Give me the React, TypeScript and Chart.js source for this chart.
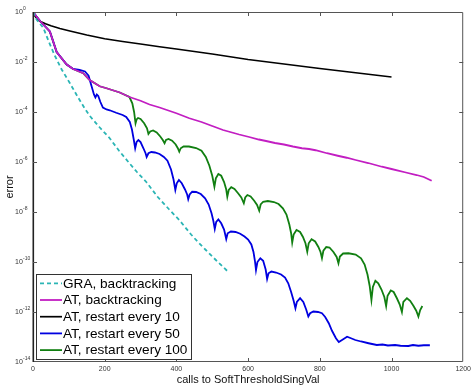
import React, { useEffect, useRef } from 'react';
import { Chart, registerables } from 'chart.js';

Chart.register(...registerables);

// ---- axis ticks ----
const xTickValues = [0, 200, 400, 600, 800, 1000, 1200];
const yTickExponents = [0, -2, -4, -6, -8, -10, -12, -14];

// ---- series (x = calls, values given as log10(error)) ----
const seriesLabels = [
  'GRA, backtracking',
  'AT, backtracking',
  'AT, restart every 10',
  'AT, restart every 50',
  'AT, restart every 100',
];

const graX = [0, 10, 29, 45, 61, 80, 103, 125, 144, 158, 185, 214, 240, 269, 290, 316, 348, 380, 408, 441, 460, 482, 510, 542];
const graLogErr = [0, -0.3, -0.64, -1.22, -1.75, -2.3, -2.85, -3.4, -3.85, -4.15, -4.6, -5.05, -5.55, -6.05, -6.4, -6.8, -7.4, -7.9, -8.32, -8.9, -9.2, -9.52, -9.92, -10.36];

const atBtX = [0, 19, 47, 66, 94, 112, 140, 158, 186, 205, 242, 269, 300, 325, 353, 400, 436, 470, 500, 530, 550, 575, 603, 630, 650, 675, 700, 725, 750, 770, 788, 820, 850, 875, 900, 935, 973, 1000, 1040, 1070, 1090, 1112];
const atBtLogErr = [0, -0.35, -0.78, -1.6, -2.1, -2.28, -2.45, -2.72, -2.97, -3.05, -3.22, -3.4, -3.55, -3.7, -3.82, -4.05, -4.25, -4.4, -4.56, -4.72, -4.8, -4.9, -5.0, -5.1, -5.16, -5.24, -5.3, -5.38, -5.45, -5.48, -5.53, -5.65, -5.75, -5.83, -5.92, -6.04, -6.19, -6.28, -6.42, -6.52, -6.6, -6.75];

const r10X = [0, 5, 12, 19, 35, 50, 75, 100, 150, 200, 250, 300, 353, 400, 500, 600, 700, 800, 900, 1000];
const r10LogErr = [0, -0.15, -0.28, -0.37, -0.47, -0.55, -0.66, -0.75, -0.92, -1.07, -1.18, -1.28, -1.39, -1.48, -1.68, -1.9, -2.08, -2.26, -2.43, -2.6];

const r50X = [0, 19, 47, 66, 94, 112, 130, 145, 155, 163, 170, 174, 178, 182, 188, 195, 205, 214, 232, 250, 260, 270, 276, 281, 285, 289, 294, 300, 308, 314, 317, 322, 330, 340, 353, 365, 375, 385, 392, 397, 401, 407, 415, 424, 430, 433, 437, 444, 455, 468, 480, 490, 498, 503, 507, 511, 517, 525, 533, 539, 543, 552, 565, 578, 590, 600, 609, 615, 619, 622, 626, 634, 642, 649, 653, 657, 665, 678, 692, 703, 712, 720, 727, 732, 736, 745, 754, 762, 768, 773, 782, 795, 806, 815, 825, 834, 845, 853, 862, 876, 887, 899, 915, 936, 959, 975, 990, 1010, 1025, 1047, 1060, 1075, 1090, 1107];
const r50LogErr = [0, -0.35, -0.78, -1.6, -2.1, -2.28, -2.32, -2.38, -2.55, -2.95, -3.3, -3.42, -3.3, -3.36, -3.6, -3.82, -3.9, -3.93, -4.03, -4.12, -4.2, -4.4, -4.7, -5.1, -5.45, -5.2, -5.12, -5.2, -5.45, -5.65, -5.8, -5.65, -5.6, -5.62, -5.68, -5.8, -5.95, -6.3, -6.7, -7.12, -6.85, -6.72, -6.85, -7.1, -7.3, -7.49, -7.3, -7.19, -7.2, -7.28, -7.45, -7.7, -8.05, -8.35, -8.68, -8.4, -8.3, -8.45, -8.7, -9.08, -8.85, -8.78, -8.8, -8.87, -8.98, -9.1, -9.3, -9.6, -9.95, -10.32, -10.0, -9.85, -9.95, -10.3, -10.68, -10.45, -10.38, -10.42, -10.5, -10.62, -10.85, -11.2, -11.55, -11.85, -11.6, -11.45, -11.6, -11.9, -12.18, -12.05, -11.98, -12.0, -12.05, -12.2, -12.45, -12.75, -13.05, -13.2, -13.12, -12.99, -13.05, -13.12, -13.18, -13.25, -13.32, -13.3, -13.34, -13.32, -13.35, -13.36, -13.32, -13.35, -13.33, -13.33];

const r100X = [0, 19, 47, 66, 94, 112, 140, 158, 186, 205, 242, 269, 277, 282, 286, 289, 293, 300, 310, 318, 322, 327, 335, 345, 355, 362, 367, 371, 378, 388, 398, 404, 408, 412, 420, 435, 455, 470, 482, 492, 500, 506, 510, 517, 525, 533, 539, 542, 546, 553, 562, 572, 581, 588, 592, 598, 607, 617, 625, 631, 635, 642, 655, 672, 685, 697, 707, 715, 720, 723, 727, 735, 745, 753, 760, 765, 769, 777, 787, 796, 802, 806, 810, 818, 827, 838, 847, 852, 856, 865, 880, 900, 915, 925, 933, 939, 944, 948, 955, 963, 972, 980, 985, 989, 998, 1006, 1015, 1023, 1029, 1033, 1043, 1052, 1061, 1069, 1075, 1080, 1086];
const r100LogErr = [0, -0.35, -0.78, -1.6, -2.1, -2.28, -2.45, -2.72, -2.97, -3.05, -3.22, -3.4, -3.65, -4.0, -4.45, -4.3, -4.24, -4.28, -4.45, -4.65, -4.88, -4.78, -4.74, -4.82, -4.98, -5.12, -5.25, -5.12, -5.08, -5.15, -5.3, -5.45, -5.59, -5.45, -5.38, -5.38, -5.44, -5.55, -5.8, -6.15, -6.55, -6.99, -6.65, -6.48, -6.55, -6.8, -7.1, -7.39, -7.12, -7.01, -7.08, -7.25, -7.42, -7.65, -7.42, -7.32, -7.38, -7.55, -7.72, -7.95, -7.7, -7.59, -7.56, -7.6, -7.68, -7.85, -8.1, -8.5, -8.85, -9.22, -8.9, -8.72, -8.8, -9.0, -9.25, -9.59, -9.25, -9.09, -9.18, -9.4, -9.6, -9.85, -9.55, -9.4, -9.42, -9.6, -9.8, -10.05, -9.78, -9.66, -9.65, -9.7, -9.85, -10.1, -10.5, -10.95, -11.52, -11.0, -10.75, -10.85, -11.1, -11.4, -11.76, -11.35, -11.14, -11.2, -11.45, -11.7, -12.0, -11.6, -11.45, -11.55, -11.75, -11.95, -12.18, -11.92, -11.76];

const seriesColors = ['#2bb5b5', '#c21ec2', '#000000', '#0000e0', '#117f11'];

function toPoints(xs: number[], logs: number[]) {
  return xs.map((x, i) => ({ x, y: Math.pow(10, logs[i]) }));
}

const FONT = "'Liberation Sans', Arial, Helvetica, sans-serif";

const matlabAxesPlugin = {
  id: 'matlabAxes',
  afterDatasetsDraw(chart: any) {
    const { ctx, chartArea, scales } = chart;
    const { left, right, top, bottom } = chartArea;
    const xs = scales.x;
    const ys = scales.y;
    ctx.save();
    ctx.setLineDash([]);
    // box
    ctx.strokeStyle = '#555555';
    ctx.lineWidth = 1;
    ctx.beginPath();
    ctx.moveTo(left, top + 0.5);
    ctx.lineTo(right - 0.5, top + 0.5);
    ctx.lineTo(right - 0.5, bottom - 0.5);
    ctx.lineTo(left, bottom - 0.5);
    ctx.stroke();
    ctx.strokeStyle = '#222222';
    ctx.lineWidth = 1.6;
    ctx.beginPath();
    ctx.moveTo(left + 0.3, top);
    ctx.lineTo(left + 0.3, bottom);
    ctx.stroke();
    // inward ticks
    const tl = 4;
    ctx.strokeStyle = '#555555';
    ctx.lineWidth = 1;
    ctx.beginPath();
    xs.ticks.forEach((t: any) => {
      const px = Math.round(xs.getPixelForValue(t.value)) + 0.5;
      if (px <= left + 1 || px >= right - 1) return;
      ctx.moveTo(px, bottom);
      ctx.lineTo(px, bottom - tl);
      ctx.moveTo(px, top);
      ctx.lineTo(px, top + tl);
    });
    ys.ticks.forEach((t: any) => {
      const py = Math.round(ys.getPixelForValue(t.value)) + 0.5;
      if (py <= top + 1 || py >= bottom - 1) return;
      ctx.moveTo(left, py);
      ctx.lineTo(left + tl, py);
      ctx.moveTo(right, py);
      ctx.lineTo(right - tl, py);
    });
    ctx.stroke();
    // y tick labels 10^n (exponent drawn raised and smaller)
    ctx.fillStyle = '#333333';
    ctx.textBaseline = 'middle';
    ctx.textAlign = 'left';
    ys.ticks.forEach((t: any) => {
      const py = ys.getPixelForValue(t.value);
      const e = Math.round(Math.log10(t.value));
      const x0 = 15;
      ctx.font = `7px ${FONT}`;
      ctx.fillText('10', x0, py + 0.5);
      const w = ctx.measureText('10').width;
      ctx.font = `5px ${FONT}`;
      ctx.fillText(String(e), x0 + w + 0.3, py - 3);
    });
    ctx.restore();
  },
  afterDraw(chart: any) {
    const { ctx, chartArea } = chart;
    const bx = chartArea.left + 3;
    const bw = 156;
    const bh = 86;
    const by = chartArea.bottom - 2 - bh;
    ctx.save();
    ctx.fillStyle = '#ffffff';
    ctx.fillRect(bx, by, bw, bh);
    ctx.strokeStyle = '#333333';
    ctx.lineWidth = 1;
    ctx.setLineDash([]);
    ctx.strokeRect(bx + 0.5, by + 0.5, bw - 1, bh - 1);
    const rowH = 16.7;
    chart.data.datasets.forEach((ds: any, i: number) => {
      const cy = by + 9.3 + i * rowH;
      ctx.strokeStyle = ds.borderColor;
      ctx.lineWidth = ds.borderWidth;
      ctx.setLineDash(ds.borderDash || []);
      ctx.beginPath();
      ctx.moveTo(bx + 4, cy);
      ctx.lineTo(bx + 26, cy);
      ctx.stroke();
      ctx.setLineDash([]);
      ctx.fillStyle = '#000000';
      ctx.font = `13.6px ${FONT}`;
      ctx.textBaseline = 'middle';
      ctx.textAlign = 'left';
      ctx.fillText(ds.label, bx + 27, cy + 0.5);
    });
    ctx.restore();
  },
};

export default function App() {
  const canvasRef = useRef<HTMLCanvasElement | null>(null);

  useEffect(() => {
    const canvas = canvasRef.current;
    if (!canvas) return;
    const xsList = [graX, atBtX, r10X, r50X, r100X];
    const ysList = [graLogErr, atBtLogErr, r10LogErr, r50LogErr, r100LogErr];
    const datasets = seriesLabels.map((label, i) => ({
      label,
      data: toPoints(xsList[i], ysList[i]),
      borderColor: seriesColors[i],
      backgroundColor: seriesColors[i],
      borderWidth: i === 2 ? 1.7 : 1.8,
      borderDash: i === 0 ? [4, 3] : [],
      pointRadius: 0,
      tension: 0,
      fill: false,
    }));
    const chart = new Chart(canvas, {
      type: 'line',
      data: { datasets },
      options: {
        animation: false,
        responsive: false,
        devicePixelRatio: 1,
        parsing: false as any,
        layout: { padding: { top: 12, right: 9, left: 0, bottom: 0 } },
        plugins: { legend: { display: false }, tooltip: { enabled: false } },
        scales: {
          x: {
            type: 'linear',
            min: 0,
            max: 1200,
            afterBuildTicks: (s: any) => { s.ticks = xTickValues.map((v) => ({ value: v })); },
            afterFit: (s: any) => { s.height = 29; },
            grid: { display: false, drawTicks: false },
            border: { display: false },
            ticks: { font: { family: FONT, size: 7 }, color: '#333333', padding: 3, maxRotation: 0, autoSkip: false, callback: (v: any) => String(v) },
            title: { display: true, text: 'calls to SoftThresholdSingVal', font: { family: FONT, size: 11 }, color: '#111111', padding: { top: 0, bottom: 4 } },
          },
          y: {
            type: 'logarithmic',
            min: 1e-14,
            max: 1,
            afterBuildTicks: (s: any) => { s.ticks = yTickExponents.map((e) => ({ value: Math.pow(10, e) })); },
            afterFit: (s: any) => { s.width = 33; },
            grid: { display: false, drawTicks: false },
            border: { display: false },
            ticks: { display: false },
            title: { display: true, text: 'error', font: { family: FONT, size: 11 }, color: '#111111', padding: { top: 3, bottom: 0 } },
          },
        },
      },
      plugins: [matlabAxesPlugin],
    } as any);
    return () => chart.destroy();
  }, []);

  return (
    <div style={{ position: 'absolute', left: 0, top: 0, width: 474, height: 391, background: '#ffffff' }}>
      <canvas ref={canvasRef} width={474} height={391} style={{ width: 474, height: 391, display: 'block' }} />
    </div>
  );
}
